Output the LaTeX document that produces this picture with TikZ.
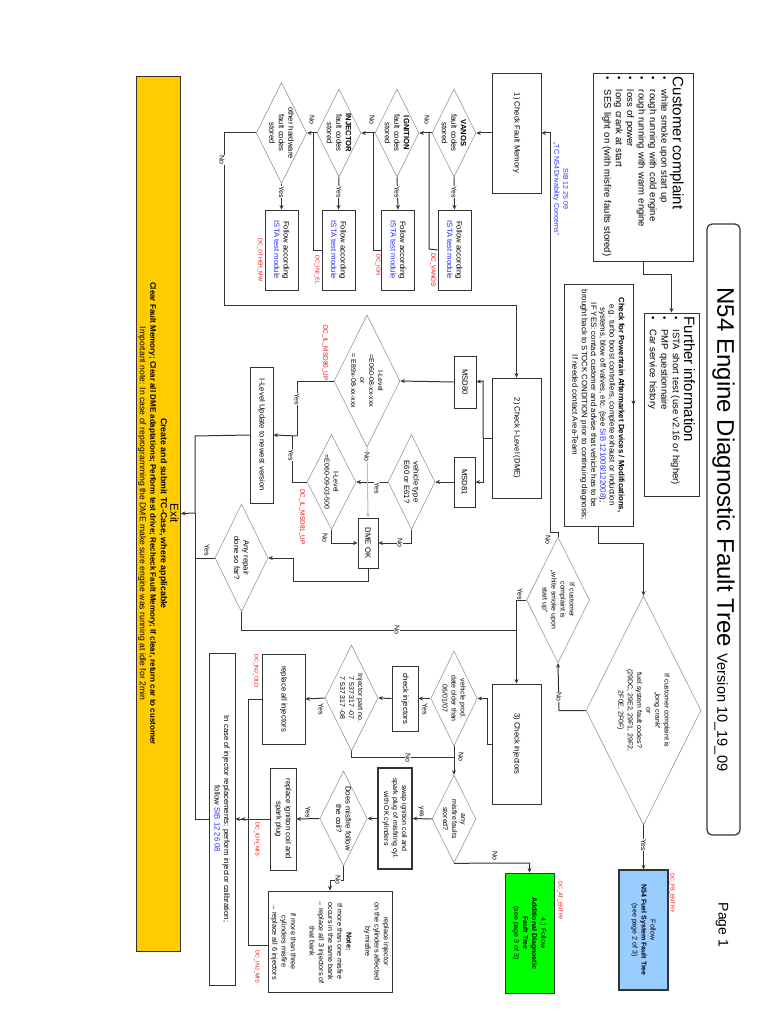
\documentclass[tikz,border=0pt]{standalone}
\usepackage{fontspec}
\setmainfont{Liberation Sans}
\usetikzlibrary{arrows.meta,shapes.geometric}
\definecolor{exitcol}{HTML}{FFCC00}
\definecolor{fscol}{HTML}{99CCFF}
\definecolor{atcol}{HTML}{00FF00}
\definecolor{sibcol}{HTML}{2A2AFF}
\definecolor{edgecol}{HTML}{333333}
\newcommand{\fs}[2]{\fontsize{#1}{#2}\selectfont}
\newcommand{\bul}{\makebox[13pt][l]{\textbullet}}
\newcommand{\sib}[1]{{\color{sibcol}#1}}
\tikzset{
  box/.style 2 args={draw=edgecol,fill=white,line width=0.9pt,inner sep=0pt,align=center,
    minimum width=#1,minimum height=#2,font=\fs{7.7}{9.5}},
  dec/.style 2 args={draw=black!40,fill=white,line width=0.6pt,diamond,aspect=2,inner sep=0pt,align=center,
    minimum width=#1,minimum height=#2,font=\fs{7.7}{9.5}},
  flow/.style={draw=edgecol,line width=1pt,-{Stealth[length=4.5pt,width=4pt]}},
  line/.style={draw=edgecol,line width=1pt},
  lbl/.style={fill=white,inner sep=0.5pt,font=\fs{7}{8}},
  tag/.style={text=red,inner sep=0pt,font=\fs{5.5}{6}},
}
\begin{document}
\begin{tikzpicture}[rotate=-90,transform shape,x=1pt,y=1pt]
\useasboundingbox (0,0) rectangle (1024,768);
% header and info boxes
\node[box={611pt}{33pt},rounded corners=5pt,line width=1.2pt] (title) at (529.5,723.5) {\fs{24}{28}N54 Engine Diagnostic Fault Tree \fs{14.6}{28}Version 10\_19\_09};
\node[inner sep=0pt,font=\fs{14}{16}] (page) at (925,722) {Page 1};
\node[box={188pt}{100pt},text width=180pt,align=left,font=\fs{9.5}{11.4}] (cust) at (167,643) {{\fs{15}{19}Customer complaint}\\
\bul white smoke upon start up\\
\bul rough running with cold engine\\
\bul rough running with warm engine\\
\bul loss of power\\
\bul long crank at start\\
\bul SES light on (with misfire faults stored)};
\node[box={183pt}{55pt},text width=176pt,align=left,font=\fs{9.5}{11.4}] (info) at (404.5,671.5) {{\fs{15}{19}Further information}\\
\bul ISTA short test (use v2.16 or higher)\\
\bul PMP questionnaire\\
\bul Car service history};
\node[box={242pt}{69pt},font=\fs{7.8}{9.3}] (check) at (405,598.5) {\textbf{Check for Powertrain Aftermarket Devices / Modifications,}\\
e.g. turbo boost controllers, complete exhaust or induction\\
systems, blow off valves, etc. (see \sib{SIB 121008/122008});\\
IF YES: contact customer and advise that vehicle has to be\\
brought back to STOCK CONDITION prior to continuing diagnosis;\\
If needed contact Area-Team};
\node[box={875pt}{44pt},fill=exitcol,font=\fs{8}{10.5}] (exit) at (513.5,158.5) {{\fs{11.5}{14}Exit}\\[-1pt]
{\fs{8.8}{11}\textbf{Create and submit TC-Case, where applicable}}\\
\textbf{Clear Fault Memory; Clear all DME adaptations; Perform test drive; Recheck Fault Memory; If clear, return car to customer}\\
{\fs{8.6}{10.5}Important note: In case of reprogramming the DME make sure engine was running at idle for 2min}};
% step 1
\node[box={120pt}{49pt}] (stepa) at (133,516.5) {1) Check Fault Memory};
\node[dec={88pt}{44pt}] (vanos) at (133,454) {\textbf{VANOS}\\fault codes\\stored};
\node[dec={88pt}{44pt}] (ign) at (133,397) {\textbf{IGNITION}\\fault codes\\stored};
\node[dec={88pt}{44pt}] (inj) at (133,339) {\textbf{INJECTOR}\\fault codes\\stored};
\node[dec={88pt}{44pt}] (other) at (133,281.5) {other hardware\\fault codes\\stored};
\node[box={80pt}{33pt}] (fvanos) at (250,454.5) {Follow according\\\sib{ISTA test module}};
\node[box={80pt}{33pt}] (fign) at (250,398) {Follow according\\\sib{ISTA test module}};
\node[box={80pt}{33pt}] (finj) at (250,338.5) {Follow according\\\sib{ISTA test module}};
\node[box={80pt}{33pt}] (fother) at (250,281.5) {Follow according\\\sib{ISTA test module}};
% step 2
\node[box={120pt}{49pt}] (stepb) at (438,516.5) {2) Check I-Level (DME)};
\node[box={52pt}{22pt}] (msdA) at (382,465) {MSD80};
\node[box={50pt}{21pt}] (msdB) at (482,464.5) {MSD81};
\node[dec={132pt}{66pt},font=\fs{7}{9}] (ilA) at (381,367) {I-Level\\=E060-08-xx-xxx\\or\\= E89x-08-xx-xxx};
\node[dec={95pt}{47pt}] (vtype) at (482,411.5) {vehicle type\\E60 or E61?};
\node[dec={95pt}{49pt},font=\fs{7}{9}] (ilB) at (482,331.5) {I-Level\\=E060-09-03-500};
\node[box={50pt}{20pt}] (dme) at (543,368) {DME OK};
\node[box={136pt}{23pt}] (update) at (435,261.5) {I-Level Update to newest version};
\node[dec={108pt}{53pt}] (repair) at (558,241.5) {Any repair\\done so far?};
% step 3
\node[dec={114pt}{58pt},font=\fs{7}{9}] (smoke) at (600,558) {If customer\\complaint is\\„white smoke upon\\start up“};
\node[dec={229pt}{115pt},font=\fs{7}{9.2}] (big) at (710.5,643.5) {If customer complaint is\\„long crank“\\or\\fuel system fault codes?\\(29DC, 29E2, 29F1, 29F2,\\2F0E, 2F0F)};
\node[box={120pt}{49pt}] (stepc) at (744,516.5) {3) Check injectors};
\node[dec={95pt}{46pt},font=\fs{7}{9}] (prod) at (698.5,454) {vehicle prod.\\date older than\\06/01/07};
\node[box={65pt}{26pt}] (chkinj) at (698.5,405) {check injectors};
\node[dec={106pt}{53pt},font=\fs{7}{9}] (part) at (698,351.5) {Injector part no.\\7 537 317 -07\\7 537 317 -08};
\node[box={90pt}{43pt}] (repall) at (699,283.5) {replace all injectors};
\node[dec={88pt}{44pt},font=\fs{7}{9}] (misf) at (819,454) {any\\misfire faults\\stored?};
\node[box={101pt}{34pt},line width=1.4pt,font=\fs{7}{9}] (swap) at (818.5,395) {swap ignition coil and\\spark plug of misfiring cyl.\\with OK cylinders};
\node[dec={95pt}{47pt}] (follows) at (818.5,343.5) {Does misfire follow\\the coil?};
\node[box={102pt}{26pt}] (repign) at (819,283) {replace ignition coil and\\spark plug};
\node[box={101pt}{124pt},font=\fs{7.2}{9.3}] (repinj) at (941.5,330) {replace injector\\on the cylinders affected\\by misfire\\\mbox{}\\\textbf{Note:}\\If more than one misfire\\occurs in the same bank\\→ replace all 3 injectors of\\that bank\\\mbox{}\\if more than three\\cylinders misfire\\→ replace all 6 injectors};
\node[box={332pt}{26pt}] (calib) at (819,222) {In case of injector replacements: perform injector calibration;\\follow \sib{SIB 12 26 08}};
% step 4 and fuel tree
\node[box={120pt}{49pt},fill=fscol,line width=1.3pt,font=\fs{7}{9}] (fuel) at (930,643.5) {Follow\\\textbf{N54 Fuel System Fault Tree}\\(see page 2 of 3)};
\node[box={120pt}{49pt},fill=atcol,font=\fs{7}{9}] (addl) at (933,529.5) {4.) Follow\\\textbf{Additional Diagnostic}\\\textbf{Fault Tree}\\(see page 3 of 3)};
% bends
\coordinate (c1) at (274,643);
\coordinate (c2) at (274,671.5);
\coordinate (c3) at (543,598.5);
\coordinate (c4) at (543,643.5);
\coordinate (c5) at (532,558);
\coordinate (c6) at (532,550);
\coordinate (c7) at (133,550);
\coordinate (c8) at (710.5,559);
\coordinate (c9) at (600,516.5);
\coordinate (c11) at (630,241.5);
\coordinate (c12) at (630,516.5);
\coordinate (c13) at (133,224);
\coordinate (c14) at (305.5,224);
\coordinate (c15) at (305.5,516.5);
\coordinate (c16) at (249,429);
\coordinate (c17) at (133,429);
\coordinate (c18) at (250,373);
\coordinate (c19) at (133,373);
\coordinate (c20) at (250,313);
\coordinate (c21) at (133,313);
\coordinate (c22) at (438,483);
\coordinate (c23) at (381,483);
\coordinate (c24) at (482,483);
\coordinate (c25) at (543,411.5);
\coordinate (c26) at (543,331.5);
\coordinate (c27) at (482,292);
\coordinate (c28) at (436,292);
\coordinate (c29) at (381,297);
\coordinate (c30) at (436,297);
\coordinate (c31) at (581,368);
\coordinate (c32) at (581,293);
\coordinate (c33) at (558,293);
\coordinate (c34) at (436,195);
\coordinate (c35) at (513,195);
\coordinate (c36) at (558,195);
\coordinate (c37) at (819,195);
\coordinate (c38) at (744,487);
\coordinate (c39) at (698.5,487);
\coordinate (c40) at (757.5,351.5);
\coordinate (c41) at (757.5,454);
\coordinate (c42) at (863,529.5);
\coordinate (c43) at (880,343.5);
\coordinate (c44) at (880,330);
\coordinate (c45) at (699,248);
\coordinate (c46) at (945,248);
\coordinate (c47) at (945,268);
\coordinate (c48) at (819,241);
% connectors
\draw[flow] (cust.east) -- (c1) -- (c2) -- (info.west);
\draw[flow] (info.south |- check.north) -- (check.north);
\draw[flow] (check.east) -- (c3) -- (c4) -- (big.west);
\draw[flow] (big.east) -- (fuel.west);
\draw[flow] (big.south) -- (c8) -- (smoke.east);
\draw[flow] (smoke.west) -- (c5) -- (c6) -- (c7) -- (stepa.north);
\draw[flow] (smoke.south) -- (c9) -- (stepc.west);
\draw[flow] (stepa.south) -- (vanos.north);
\draw[flow] (vanos.south) -- (ign.north);
\draw[flow] (ign.south) -- (inj.north);
\draw[flow] (inj.south) -- (other.north);
\draw[flow] (vanos.east) -- (fvanos.west);
\draw[flow] (ign.east) -- (fign.west);
\draw[flow] (inj.east) -- (finj.west);
\draw[flow] (other.east) -- (fother.west);
\draw[line] (fvanos.south) -- (c16) -- (c17);
\draw[line] (fign.south) -- (c18) -- (c19);
\draw[line] (finj.south) -- (c20) -- (c21);
\draw[flow] (other.south) -- (c13) -- (c14) -- (c15) -- (stepb.west);
\draw[line] (stepb.south) -- (c22);
\draw[flow] (c22) -- (c23) -- (msdA.north);
\draw[flow] (c22) -- (c24) -- (msdB.north);
\draw[flow] (msdA.south) -- (ilA.north);
\draw[flow] (msdB.south) -- (vtype.north);
\draw[flow] (vtype.south) -- (ilB.north);
\draw[flow,draw=black!25] (ilA.east) -- (dme.west);
\draw[flow] (vtype.east) -- (c25) -- (dme.north);
\draw[flow] (ilB.east) -- (c26) -- (dme.south);
\draw[line] (ilB.south) -- (c27) -- (c28);
\draw[line] (ilA.south) -- (c29) -- (c30);
\draw[flow] (c30) -- (update.north);
\draw[flow] (dme.east) -- (c31) -- (c32) -- (c33) -- (repair.north);
\draw[line] (update.south) -- (c34) -- (c35);
\draw[flow] (c35) -- (exit.north);
\draw[line] (repair.south) -- (c36);
\draw[line] (calib.south) -- (c37) -- (c35);
\draw[line] (repair.east) -- (c11) -- (c12);
\draw[flow] (stepc.south) -- (c38) -- (c39) -- (prod.north);
\draw[flow] (prod.south) -- (chkinj.north);
\draw[flow] (chkinj.south) -- (part.north);
\draw[flow] (part.south) -- (repall.north);
\draw[line] (part.east) -- (c40) -- (c41);
\draw[flow] (prod.east) -- (misf.west);
\draw[flow] (misf.south) -- (swap.north);
\draw[flow] (swap.south) -- (follows.north);
\draw[flow] (follows.south) -- (repign.north);
\draw[flow] (misf.east) -- (c42) -- (addl.west);
\draw[flow] (follows.east) -- (c43) -- (c44) -- (repinj.west);
\draw[flow] (repign.south) -- (calib.north);
\draw[line] (repall.south) -- (c45) -- (c46) -- (c47);
\draw[flow] (c48 |- repign.south) -- (c48);
% connector labels
\node[lbl] (nob) at (120,427) {No};
\node[lbl] (noc) at (120,372) {No};
\node[lbl] (nod) at (120,312) {No};
\node[lbl] (noe) at (160,222) {No};
\node[lbl] (yesa) at (192,454) {Yes};
\node[lbl] (yesb) at (192,397) {Yes};
\node[lbl] (yesc) at (192,339) {Yes};
\node[lbl] (yesd) at (192,281.5) {Yes};
\node[lbl] (yese) at (399,297) {Yes};
\node[lbl] (yesf) at (455,291) {Yes};
\node[lbl] (yesg) at (488,377) {Yes};
\node[lbl] (nof) at (457,367) {No};
\node[lbl] (nog) at (543,400) {No};
\node[lbl] (noh) at (538,325) {No};
\node[lbl] (yesh) at (550,207) {Yes};
\node[lbl] (noi) at (630,397) {No};
\node[lbl] (noj) at (540,548) {No};
\node[lbl] (yesi) at (594,520) {Yes};
\node[lbl] (nok) at (697,559) {No};
\node[lbl] (yesj) at (845,643.5) {Yes};
\node[lbl] (yesk) at (709,425) {Yes};
\node[lbl] (yesl) at (709,321) {Yes};
\node[lbl] (nol) at (757.5,408) {No};
\node[lbl] (nom) at (757,461) {No};
\node[lbl] (yesm) at (812,421) {yes};
\node[lbl] (yesn) at (812,308) {Yes};
\node[lbl] (non) at (880,338) {No};
\node[lbl] (noo) at (856,495) {No};
% red module tags
\node[tag] (tagother) at (260,260) {DC\_OTHER\_MW};
\node[tag] (taginj) at (270,317) {DC\_INJ\_EL};
\node[tag] (tagign) at (265,378) {DC\_IGN};
\node[tag,font=\fs{6.2}{7}] (tagvanos) at (270,433) {DC\_VANOS};
\node[tag,font=\fs{6.4}{7}] (tagmsda) at (353,325) {DC\_IL\_MSD80\_UP};
\node[tag,font=\fs{6.4}{7}] (tagmsdb) at (517,302) {DC\_IL\_MSD81\_UP};
\node[tag] (tagold) at (671,256) {DC\_INJ\_OLD};
\node[tag] (tagmis) at (839,257) {DC\_IGN\_MIS};
\node[tag] (taginjm) at (967,257) {DC\_INJ\_MIS};
\node[tag] (tagfs) at (893,672) {DC\_FS\_ENTRY};
\node[tag] (tagat) at (901,560) {DC\_AT\_ENTRY};
\node[inner sep=0pt,align=center,text=sibcol,font=\fs{7}{9}] (sibref) at (189,560.5) {SIB 12 25 09\\„TC N54 Drivability Concerns“};
\end{tikzpicture}
\end{document}
